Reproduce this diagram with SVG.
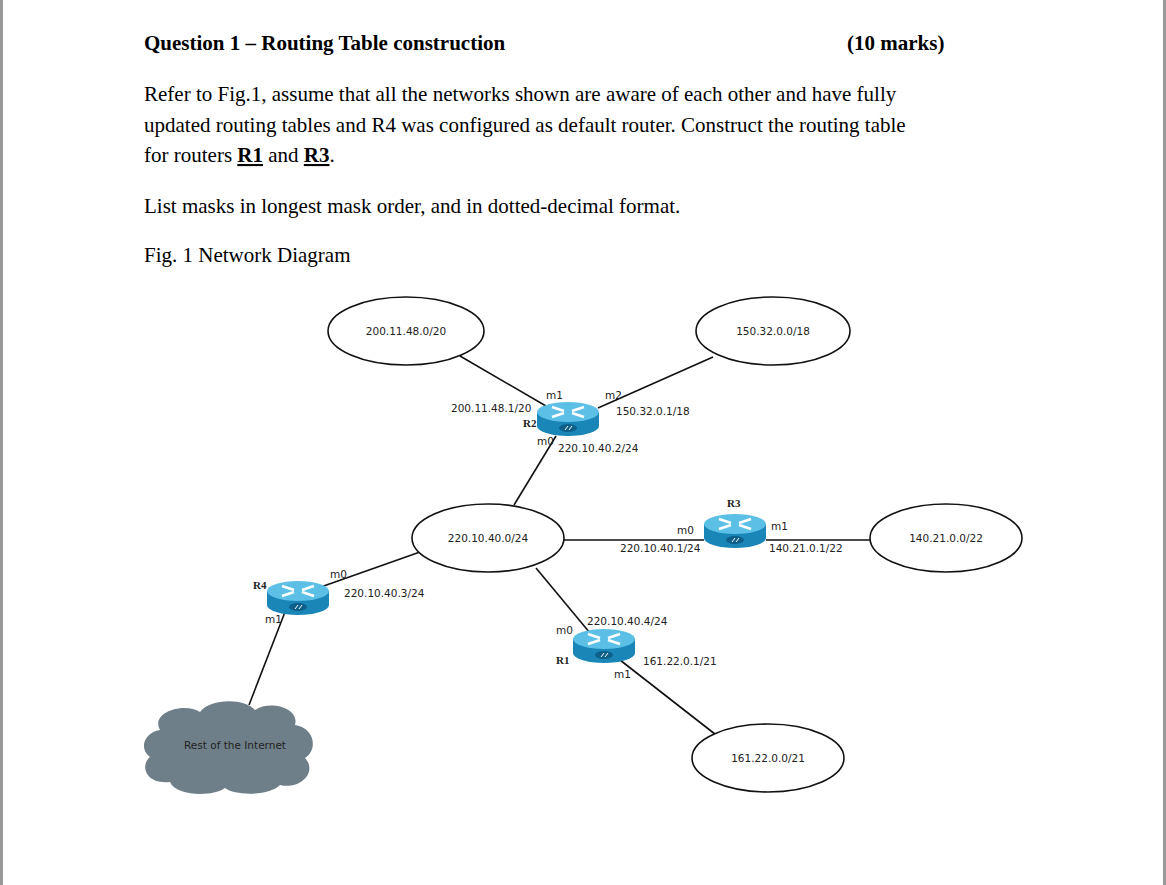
<svg xmlns="http://www.w3.org/2000/svg" width="1166" height="885" viewBox="0 0 1166 885">
<style>
.h{font-family:"Liberation Serif",serif;font-size:21px;fill:#000}
.b{font-weight:bold}
.l{font-family:"DejaVu Sans",sans-serif;font-size:10.5px;fill:#222}
.rn{font-family:"Liberation Serif",serif;font-size:11px;font-weight:bold;fill:#222}
.net{fill:#fff;stroke:#111;stroke-width:1.6}
.c{stroke:#111;stroke-width:1.6;fill:none}
</style>
<defs>
<g id="rt">
<path d="M-31,-6 L-31,8 A31,10 0 0 0 31,8 L31,-6 Z" fill="#1a86b8"/>
<ellipse cx="0" cy="-6" rx="31" ry="10" fill="#5cc0e6"/>
<path d="M-16,-11 L-4,-7 M16,-11 L4,-7 M-16,-1 L-4,-5 M16,-1 L4,-5" stroke="#fff" stroke-width="2.5"/>
<ellipse cx="0" cy="10" rx="9" ry="4" fill="#0e5f8a"/>
<path d="M-3,12 L0,8 M1,12 L4,8" stroke="#fff" stroke-width="1"/>
</g>
</defs>
<rect width="1166" height="885" fill="#fff"/>
<rect x="0" y="0" width="3" height="885" fill="#999"/>
<rect x="1163" y="0" width="3" height="885" fill="#999"/>
<text class="h b" x="144" y="50">Question 1 – Routing Table construction</text>
<text class="h b" x="847" y="50">(10 marks)</text>
<text class="h" x="144" y="101">Refer to Fig.1, assume that all the networks shown are aware of each other and have fully</text>
<text class="h" x="144" y="132">updated routing tables and R4 was configured as default router.  Construct the routing table</text>
<text class="h" x="144" y="162">for routers <tspan class="b" text-decoration="underline">R1</tspan> and <tspan class="b" text-decoration="underline">R3</tspan>.</text>
<text class="h" x="144" y="213">List masks in longest mask order, and in dotted-decimal format.</text>
<text class="h" x="144" y="262">Fig. 1 Network Diagram</text>
<g id="connectors">
<line class="c" x1="460" y1="356" x2="546" y2="406"/>
<line class="c" x1="713" y1="357" x2="598" y2="408"/>
<line class="c" x1="556" y1="436" x2="514" y2="505"/>
<line class="c" x1="564" y1="540" x2="704" y2="540"/>
<line class="c" x1="766" y1="540" x2="870" y2="540"/>
<line class="c" x1="318" y1="588" x2="420" y2="552"/>
<line class="c" x1="285" y1="612" x2="249" y2="705"/>
<line class="c" x1="536" y1="568" x2="590" y2="633"/>
<line class="c" x1="620" y1="660" x2="720" y2="738"/>
</g>
<g id="n200"><ellipse class="net" cx="406" cy="331" rx="78" ry="34"/><text class="l" x="406" y="335" text-anchor="middle">200.11.48.0/20</text></g>
<g id="n150"><ellipse class="net" cx="773" cy="331" rx="77" ry="34"/><text class="l" x="773" y="335" text-anchor="middle">150.32.0.0/18</text></g>
<g id="n220"><ellipse class="net" cx="488" cy="538" rx="76" ry="34"/><text class="l" x="488" y="542" text-anchor="middle">220.10.40.0/24</text></g>
<g id="n140"><ellipse class="net" cx="946" cy="538" rx="76" ry="34"/><text class="l" x="946" y="542" text-anchor="middle">140.21.0.0/22</text></g>
<g id="n161"><ellipse class="net" cx="768" cy="758" rx="76" ry="34"/><text class="l" x="768" y="762" text-anchor="middle">161.22.0.0/21</text></g>
<g id="cloud">
<path d="M160,730 C150,712 185,702 200,712 C210,698 245,698 255,710 C270,700 300,708 295,725 C315,728 318,750 305,758 C318,772 300,790 280,785 C270,796 235,796 225,788 C210,798 175,795 170,782 C145,785 140,765 150,757 C138,748 145,732 160,730 Z" fill="#6e7f89"/>
<text class="l" x="235" y="749" text-anchor="middle" fill="#222">Rest of the Internet</text>
</g>
<g id="R2"><use href="#rt" x="568" y="418"/>
<text class="rn" x="523" y="427">R2</text>
<text class="l" x="546" y="399">m1</text><text class="l" x="605" y="399">m2</text>
<text class="l" x="451" y="412">200.11.48.1/20</text>
<text class="l" x="616" y="415">150.32.0.1/18</text>
<text class="l" x="537" y="445">m0</text><text class="l" x="558" y="452">220.10.40.2/24</text></g>
<g id="R3"><use href="#rt" x="735" y="530"/>
<text class="rn" x="727" y="507">R3</text>
<text class="l" x="677" y="534">m0</text><text class="l" x="771" y="530">m1</text>
<text class="l" x="620" y="552">220.10.40.1/24</text>
<text class="l" x="769" y="552">140.21.0.1/22</text></g>
<g id="R4"><use href="#rt" x="298" y="597"/>
<text class="rn" x="253" y="589">R4</text>
<text class="l" x="330" y="578">m0</text>
<text class="l" x="344" y="597">220.10.40.3/24</text>
<text class="l" x="265" y="623">m1</text></g>
<g id="R1"><use href="#rt" x="604" y="645"/>
<text class="rn" x="556" y="664">R1</text>
<text class="l" x="556" y="634">m0</text>
<text class="l" x="587" y="625">220.10.40.4/24</text>
<text class="l" x="643" y="665">161.22.0.1/21</text>
<text class="l" x="614" y="678">m1</text></g>
</svg>
